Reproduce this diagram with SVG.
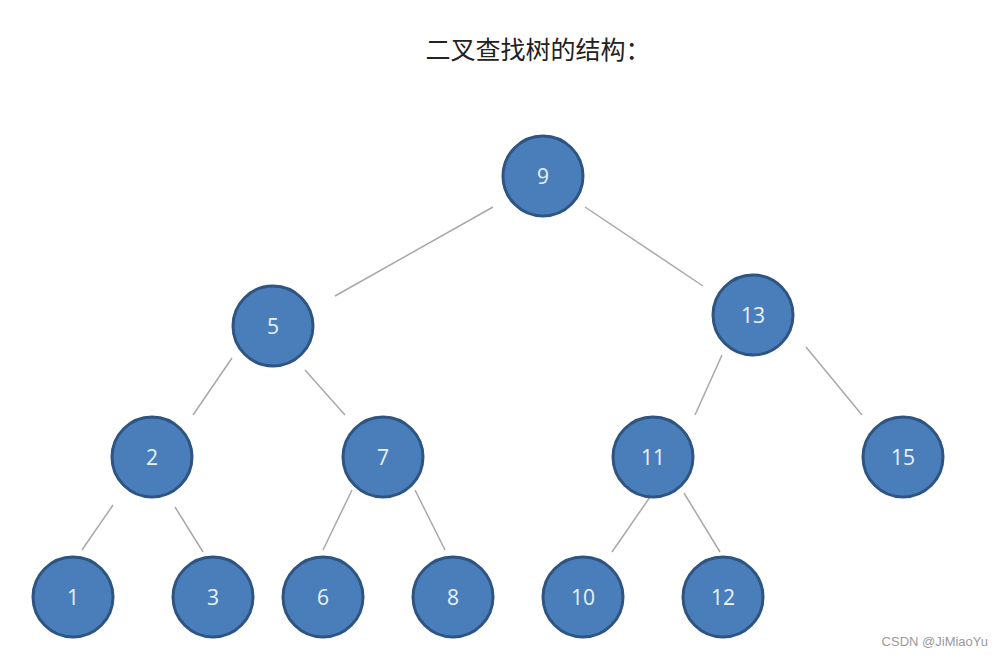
<svg xmlns="http://www.w3.org/2000/svg" width="1004" height="662" viewBox="0 0 1004 662">
<style>
.n circle{fill:#4a7ebb;stroke:#2e5482;stroke-width:3}
.n text{fill:#eaf2fb;font-family:"Open Sans","Liberation Sans",sans-serif;font-size:21px;text-anchor:middle;dominant-baseline:central}
#edges line{stroke:#a8a8a8;stroke-width:1.5}
</style>
<rect width="1004" height="662" fill="#fff"/>
<text x="538" y="48" font-family="'Noto Sans CJK SC',sans-serif" font-size="25" text-anchor="middle" dominant-baseline="central" fill="#222">二叉查找树的结构：</text>
<g id="edges">
<line x1="493" y1="207" x2="335" y2="296"/>
<line x1="585" y1="207" x2="703" y2="286"/>
<line x1="232" y1="358" x2="193" y2="415"/>
<line x1="305" y1="370" x2="345" y2="415"/>
<line x1="722" y1="355" x2="695" y2="415"/>
<line x1="806" y1="347" x2="862" y2="415"/>
<line x1="113" y1="505" x2="82" y2="550"/>
<line x1="175" y1="507" x2="203" y2="552"/>
<line x1="352" y1="490" x2="323" y2="550"/>
<line x1="415" y1="490" x2="445" y2="550"/>
<line x1="650" y1="497" x2="612" y2="552"/>
<line x1="684" y1="493" x2="720" y2="552"/>
</g>
<g id="n9" class="n"><circle cx="543" cy="176" r="40"/><text x="543" y="176">9</text></g>
<g id="n5" class="n"><circle cx="273" cy="326" r="40"/><text x="273" y="326">5</text></g>
<g id="n13" class="n"><circle cx="753" cy="315" r="40"/><text x="753" y="315">13</text></g>
<g id="n2" class="n"><circle cx="152" cy="457" r="40"/><text x="152" y="457">2</text></g>
<g id="n7" class="n"><circle cx="383" cy="457" r="40"/><text x="383" y="457">7</text></g>
<g id="n11" class="n"><circle cx="653" cy="457" r="40"/><text x="653" y="457">11</text></g>
<g id="n15" class="n"><circle cx="903" cy="457" r="40"/><text x="903" y="457">15</text></g>
<g id="n1" class="n"><circle cx="73" cy="597" r="40"/><text x="73" y="597">1</text></g>
<g id="n3" class="n"><circle cx="213" cy="597" r="40"/><text x="213" y="597">3</text></g>
<g id="n6" class="n"><circle cx="323" cy="597" r="40"/><text x="323" y="597">6</text></g>
<g id="n8" class="n"><circle cx="453" cy="597" r="40"/><text x="453" y="597">8</text></g>
<g id="n10" class="n"><circle cx="583" cy="597" r="40"/><text x="583" y="597">10</text></g>
<g id="n12" class="n"><circle cx="723" cy="597" r="40"/><text x="723" y="597">12</text></g>
<text x="988" y="646" font-family="'Liberation Sans',sans-serif" font-size="13" text-anchor="end" fill="#9a9a9a">CSDN @JiMiaoYu</text>
</svg>
